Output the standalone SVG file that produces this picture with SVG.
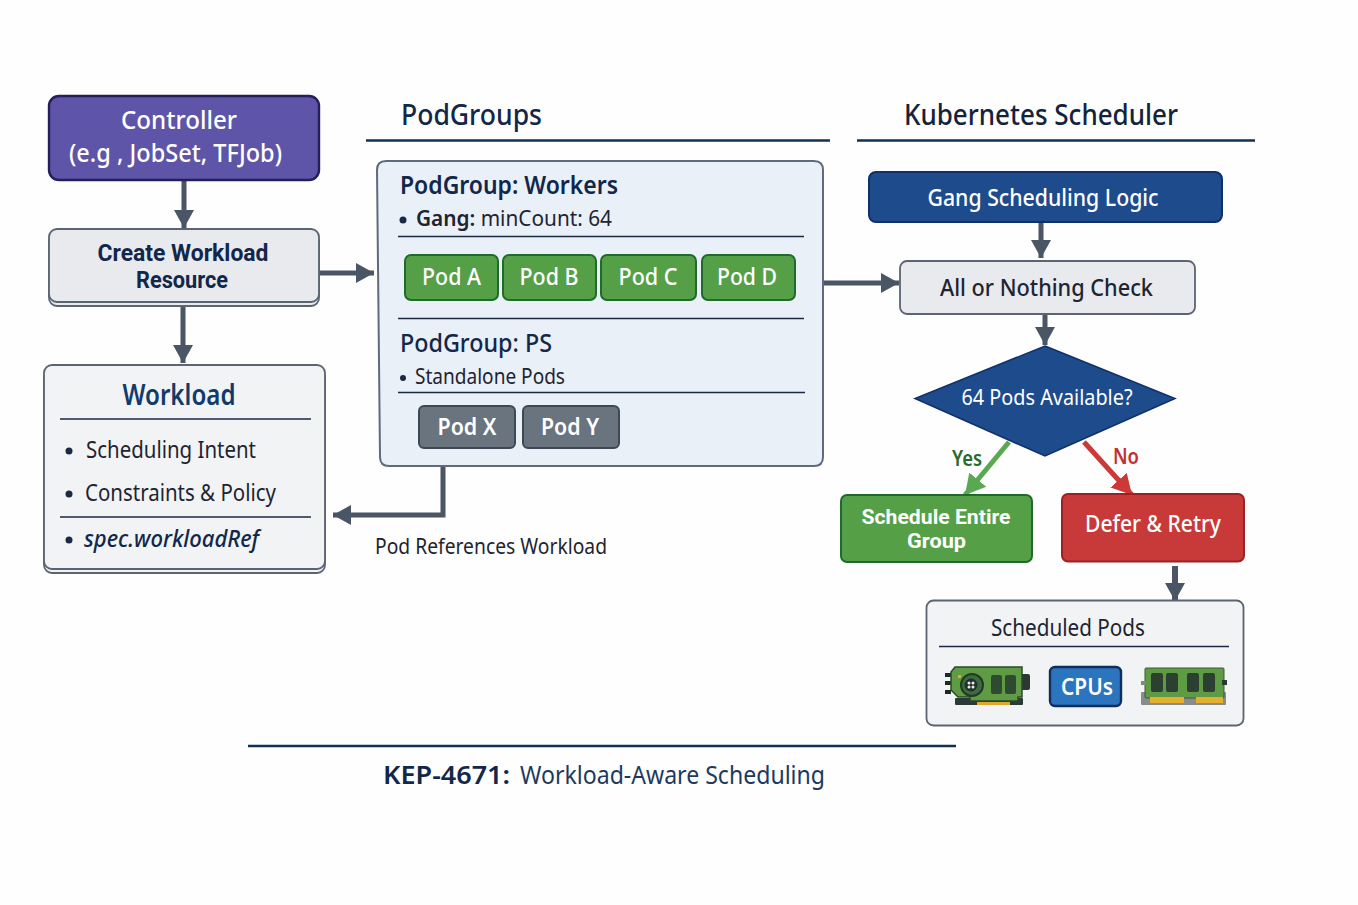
<svg xmlns="http://www.w3.org/2000/svg" width="1358" height="905" viewBox="0 0 1358 905">
<style>
text{font-family:"Noto Sans","Open Sans",sans-serif;text-anchor:middle}
.l{text-anchor:start}
.b{font-weight:600}
.two{font-family:Roboto,"Noto Sans",sans-serif;font-weight:700}
.w{fill:#fff}
.n{fill:#12274a}
.k{fill:#1e2430}
.rule{stroke:#1b2a44;stroke-width:1.6;fill:none}
.hd{stroke:#12304f;stroke-width:2.4;fill:none}
.grey{fill:#e8eaee;stroke:#5a6472;stroke-width:1.800}
.pale{fill:#f1f3f5;stroke:#5a6472;stroke-width:1.800}
.green{fill:#55a047;stroke:#1f6a2c;stroke-width:2}
.slate{fill:#69747f;stroke:#3e4854;stroke-width:2}
.c{stroke:#4a5565;stroke-width:5;fill:none}
</style>
<defs>
<marker id="a" markerUnits="userSpaceOnUse" markerWidth="20" markerHeight="20" refX="18" refY="10" orient="auto"><path d="M0 0L18 10L0 20Z" fill="#4a5565"/></marker>
<marker id="g" markerUnits="userSpaceOnUse" markerWidth="24" markerHeight="24" refX="20" refY="12" orient="auto"><path d="M0 1L20 12L0 23Z" fill="#5aa850"/></marker>
<marker id="r" markerUnits="userSpaceOnUse" markerWidth="24" markerHeight="24" refX="20" refY="12" orient="auto"><path d="M0 1L20 12L0 23Z" fill="#cc3a38"/></marker>
</defs>
<rect width="1358" height="905" fill="#fefefe"/>

<g id="connectors">
<path class="c" d="M184 180V228" marker-end="url(#a)"/>
<path class="c" d="M183 306V363" marker-end="url(#a)"/>
<path class="c" d="M320 273H374" marker-end="url(#a)"/>
<path class="c" d="M823 283H899" marker-end="url(#a)"/>
<path class="c" d="M1041 222V258" marker-end="url(#a)"/>
<path class="c" d="M1045 314V345" marker-end="url(#a)"/>
<path class="c" d="M443 466V515H333" marker-end="url(#a)"/>
<path class="c" d="M1175 566V601" marker-end="url(#a)" style="stroke-width:6"/>
<path d="M1009 442L965 495" stroke="#5aa850" stroke-width="5" fill="none" marker-end="url(#g)"/>
<path d="M1084 442L1132 495" stroke="#cc3a38" stroke-width="5" fill="none" marker-end="url(#r)"/>
</g>

<g id="controller">
<rect x="49" y="96" width="270" height="84" rx="10" fill="#5f55a8" stroke="#241f5c" stroke-width="2.4"/>
<text class="w" x="179" y="129" font-size="26" font-weight="500" textLength="116" lengthAdjust="spacingAndGlyphs">Controller</text>
<text class="w" x="175.500" y="162" font-size="26" font-weight="500" textLength="213" lengthAdjust="spacingAndGlyphs">(e.g , JobSet, TFJob)</text>
</g>

<g id="create-workload">
<rect class="grey" x="49" y="234" width="270" height="72" rx="8"/>
<rect class="grey" x="49" y="229" width="270" height="73" rx="8"/>
<text class="n two" x="183" y="261" font-size="23" textLength="171" lengthAdjust="spacingAndGlyphs">Create Workload</text>
<text class="n two" x="182" y="288" font-size="23" textLength="92" lengthAdjust="spacingAndGlyphs">Resource</text>
</g>

<g id="workload">
<rect class="pale" x="44" y="370" width="281" height="203" rx="8"/>
<rect class="pale" x="44" y="365" width="281" height="204" rx="8"/>
<text x="179" y="405" font-size="28" font-weight="600" fill="#123a6b" textLength="113" lengthAdjust="spacingAndGlyphs">Workload</text>
<path class="rule" d="M60 419H311M60 517H311"/>
<circle cx="69" cy="451" r="3.500" fill="#1b2a44"/>
<circle cx="69" cy="494" r="3.500" fill="#1b2a44"/>
<circle cx="69" cy="540" r="3.500" fill="#1b2a44"/>
<text class="l k" x="86" y="458" font-size="24" textLength="170" lengthAdjust="spacingAndGlyphs">Scheduling Intent</text>
<text class="l k" x="85" y="501" font-size="24" textLength="191" lengthAdjust="spacingAndGlyphs">Constraints &amp; Policy</text>
<text class="l n" x="84" y="547" font-size="24" font-style="italic" font-weight="500" textLength="175" lengthAdjust="spacingAndGlyphs">spec.workloadRef</text>
</g>

<g id="podgroups-header">
<text class="l n" x="401" y="125" font-size="29" font-weight="500" textLength="141" lengthAdjust="spacingAndGlyphs">PodGroups</text>
<path class="hd" d="M366 140.500H830"/>
</g>

<g id="podgroups">
<path d="M386 161H814Q823 161 823 170V457Q823 466 814 466H389Q380 466 380 457L377 170Q377 161 386 161Z" fill="#e9f0f8" stroke="#5f6b7c" stroke-width="2"/>
<text class="l n" x="400" y="194" font-size="25" font-weight="600" textLength="218" lengthAdjust="spacingAndGlyphs">PodGroup: Workers</text>
<circle cx="403" cy="220" r="3.500" fill="#1b2a44"/>
<text class="l k" x="416" y="226" font-size="22" textLength="196" lengthAdjust="spacingAndGlyphs"><tspan font-weight="600">Gang:</tspan> minCount: 64</text>
<path class="rule" d="M398 236.500H804M398 318.500H804M398 392.500H805"/>
<text class="l n" x="400" y="352" font-size="25" font-weight="500" textLength="152" lengthAdjust="spacingAndGlyphs">PodGroup: PS</text>
<circle cx="403" cy="378" r="3" fill="#1b2a44"/>
<text class="l k" x="415" y="384" font-size="22" textLength="150" lengthAdjust="spacingAndGlyphs">Standalone Pods</text>
</g>

<g id="pod-a"><rect class="green" x="405" y="255" width="93" height="45" rx="6"/><text class="w" x="451.500" y="285" font-size="23" font-weight="500" textLength="59" lengthAdjust="spacingAndGlyphs">Pod A</text></g>
<g id="pod-b"><rect class="green" x="503" y="255" width="93" height="45" rx="6"/><text class="w" x="549" y="285" font-size="23" font-weight="500" textLength="59" lengthAdjust="spacingAndGlyphs">Pod B</text></g>
<g id="pod-c"><rect class="green" x="601" y="255" width="95" height="45" rx="6"/><text class="w" x="648" y="285" font-size="23" font-weight="500" textLength="59" lengthAdjust="spacingAndGlyphs">Pod C</text></g>
<g id="pod-d"><rect class="green" x="702" y="255" width="93" height="45" rx="6"/><text class="w" x="747" y="285" font-size="23" font-weight="500" textLength="60" lengthAdjust="spacingAndGlyphs">Pod D</text></g>
<g id="pod-x"><rect class="slate" x="419" y="406" width="96" height="42" rx="5"/><text class="w" x="467" y="435" font-size="23" font-weight="600" textLength="59" lengthAdjust="spacingAndGlyphs">Pod X</text></g>
<g id="pod-y"><rect class="slate" x="523" y="406" width="96" height="42" rx="5"/><text class="w" x="570" y="435" font-size="23" font-weight="600" textLength="58" lengthAdjust="spacingAndGlyphs">Pod Y</text></g>

<text class="l k" x="375" y="554" font-size="21.500" textLength="232" lengthAdjust="spacingAndGlyphs">Pod References Workload</text>

<g id="scheduler-header">
<text class="l" fill="#14233c" x="904" y="125" font-size="29" font-weight="500" textLength="274" lengthAdjust="spacingAndGlyphs">Kubernetes Scheduler</text>
<path class="hd" d="M857 140.500H1255"/>
</g>

<g id="gang-logic">
<rect x="869" y="172" width="353" height="50" rx="7" fill="#1d4b8c" stroke="#10306a" stroke-width="2"/>
<text class="w" x="1043" y="206" font-size="24" font-weight="500" textLength="231" lengthAdjust="spacingAndGlyphs">Gang Scheduling Logic</text>
</g>

<g id="all-or-nothing">
<rect class="grey" x="900" y="261" width="295" height="53" rx="7"/>
<text class="k" x="1046.500" y="296" font-size="24" font-weight="500" textLength="213" lengthAdjust="spacingAndGlyphs">All or Nothing Check</text>
</g>

<g id="pods-available">
<path d="M1045 346L1175 398.500L1045 456L915 398.500Z" fill="#1d4b8c" stroke="#10306a" stroke-width="1.500"/>
<text class="w" x="1047" y="405" font-size="22" textLength="171" lengthAdjust="spacingAndGlyphs">64 Pods Available?</text>
</g>

<text x="967" y="466" font-size="22" font-weight="600" fill="#2a6a2e" textLength="30" lengthAdjust="spacingAndGlyphs">Yes</text>
<text x="1126" y="464" font-size="22" font-weight="600" fill="#c33030" textLength="26" lengthAdjust="spacingAndGlyphs">No</text>

<g id="schedule-group">
<rect class="green" x="841" y="495" width="191" height="67" rx="6"/>
<text class="w two" x="936" y="524" font-size="20.400" textLength="149" lengthAdjust="spacingAndGlyphs">Schedule Entire</text>
<text class="w two" x="936.500" y="548" font-size="20.400" textLength="59" lengthAdjust="spacingAndGlyphs">Group</text>
</g>

<g id="defer-retry">
<rect x="1062" y="494" width="182" height="67.500" rx="6" fill="#c73a39" stroke="#9c2024" stroke-width="2"/>
<text class="w" x="1153" y="532" font-size="24" font-weight="500" textLength="136" lengthAdjust="spacingAndGlyphs">Defer &amp; Retry</text>
</g>

<g id="scheduled-pods">
<rect class="pale" x="926.500" y="600.500" width="317" height="125" rx="7"/>
<text class="k" x="1068" y="636" font-size="23" textLength="154" lengthAdjust="spacingAndGlyphs">Scheduled Pods</text>
<path class="rule" d="M939 646.500H1229"/>
</g>

<g id="gpu-card">
<rect x="945" y="673" width="6" height="4" fill="#1d2a22"/><rect x="945" y="681" width="6" height="4" fill="#1d2a22"/><rect x="945" y="690" width="6" height="4" fill="#1d2a22"/>
<rect x="1014" y="674" width="16" height="16" rx="2" fill="#2a3a30"/>
<rect x="955" y="698" width="68" height="7" rx="1" fill="#2a3a36"/>
<path d="M955 667H1022V697H1018V701H970V697H958L951 690V672Z" fill="#5f9a44" stroke="#2b4a2a" stroke-width="1.500"/>
<circle cx="972" cy="685" r="11" fill="#3e6a3e" stroke="#1f3a2a" stroke-width="2"/>
<circle cx="971" cy="685" r="6.500" fill="#20302a"/>
<circle cx="969" cy="683" r="1.500" fill="#e8efe8"/><circle cx="973" cy="683" r="1.500" fill="#e8efe8"/><circle cx="969" cy="687" r="1.500" fill="#e8efe8"/><circle cx="973" cy="687" r="1.500" fill="#e8efe8"/>
<rect x="991" y="675" width="11" height="19" rx="2" fill="#2e4a30"/><rect x="1005" y="675" width="11" height="19" rx="2" fill="#2e4a30"/>
<rect x="977" y="702" width="33" height="3" fill="#e0a92e"/>
<rect x="958" y="675" width="3" height="3" fill="#e0a92e"/>
</g>

<g id="cpus">
<rect x="1050" y="667" width="71" height="39" rx="5" fill="#2b75bf" stroke="#0f2d5e" stroke-width="2.400"/>
<text class="w" x="1087" y="695" font-size="23" font-weight="600" textLength="52" lengthAdjust="spacingAndGlyphs">CPUs</text>
</g>

<g id="ram">
<rect x="1141" y="692" width="85" height="13" rx="1" fill="#878d8d"/>
<rect x="1145" y="668" width="79" height="30" rx="1" fill="#5f9a44" stroke="#3a5a30"/>
<rect x="1222" y="680" width="5" height="5" fill="#2a3a30"/><rect x="1141" y="681" width="5" height="4" fill="#7e8a80"/>
<rect x="1151" y="673" width="12" height="19" rx="2" fill="#2b4030"/><rect x="1166" y="673" width="12" height="19" rx="2" fill="#2b4030"/><rect x="1187" y="673" width="12" height="19" rx="2" fill="#2b4030"/><rect x="1203" y="673" width="12" height="19" rx="2" fill="#2b4030"/>
<rect x="1150" y="697" width="34" height="6" fill="#e3b02e"/><rect x="1196" y="697" width="27" height="6" fill="#e3b02e"/>
</g>

<g id="footer">
<path d="M248 746H956" stroke="#12304f" stroke-width="2.400" fill="none"/>
<text class="l n" x="383" y="784" font-size="26" font-weight="600" textLength="127" lengthAdjust="spacingAndGlyphs">KEP-4671:</text>
<text class="l" fill="#1c3a60" x="520" y="784" font-size="26" textLength="305" lengthAdjust="spacingAndGlyphs">Workload-Aware Scheduling</text>
</g>
</svg>
